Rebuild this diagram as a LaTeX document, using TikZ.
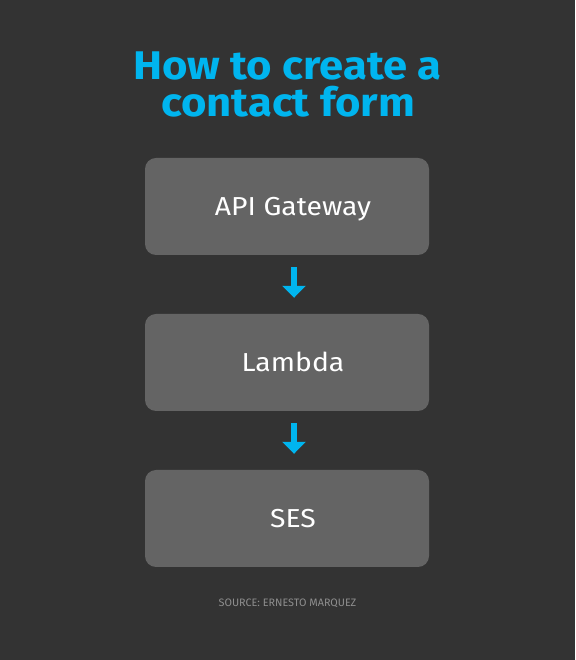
\documentclass[tikz,border=0pt]{standalone}
\usepackage{fontspec}
\setmainfont{Fira Sans}
\newfontfamily\widesans[FakeStretch=1.09]{Fira Sans}
\usetikzlibrary{positioning,arrows.meta}

\definecolor{bgdark}{HTML}{333333}
\definecolor{boxgray}{HTML}{646464}
\definecolor{flowblue}{HTML}{00B5EF}
\definecolor{notegray}{HTML}{8E8E8E}

\tikzset{
    service/.style={fill=boxgray, rounded corners=11pt, minimum width=284pt,
        minimum height=97pt, text=white, font=\widesans\fontsize{26}{30}\selectfont,
        text height=18pt, text depth=0pt,
        execute at begin node={\hspace*{12pt}}},
    flow/.style={flowblue, line width=6.6pt, -{Triangle[width=23pt,length=12pt]},
        shorten <=12pt, shorten >=16pt},
    heading/.style={text=flowblue, anchor=base, inner sep=0pt,
        font=\widesans\fontsize{40}{44}\bfseries}
}

\begin{document}
\begin{tikzpicture}[node distance=156pt, on grid]
    \fill[bgdark] (0,0) rectangle (575pt,660pt);
    \useasboundingbox (0,0) rectangle (575pt,660pt);

    % title
    \node[heading] (title1) at (287.5pt,580pt) {How to create a};
    \node[heading] (title2) at (288pt,543.3pt) {contact form};

    % services
    \node[service] (api) at (287pt,453.5pt) {API Gateway};
    \node[service] (lambda) [below=of api] {Lambda};
    \node[service] (ses) [below=of lambda] {SES};

    \draw[flow] ([xshift=7pt]api.south) -- ([xshift=7pt]lambda.north);
    \draw[flow] ([xshift=7pt]lambda.south) -- ([xshift=7pt]ses.north);

    \node[text=notegray, anchor=base, inner sep=0pt, font=\fontsize{10.8}{12}\selectfont]
        (source) at (287.5pt,53.3pt) {SOURCE: ERNESTO MARQUEZ};
\end{tikzpicture}
\end{document}
